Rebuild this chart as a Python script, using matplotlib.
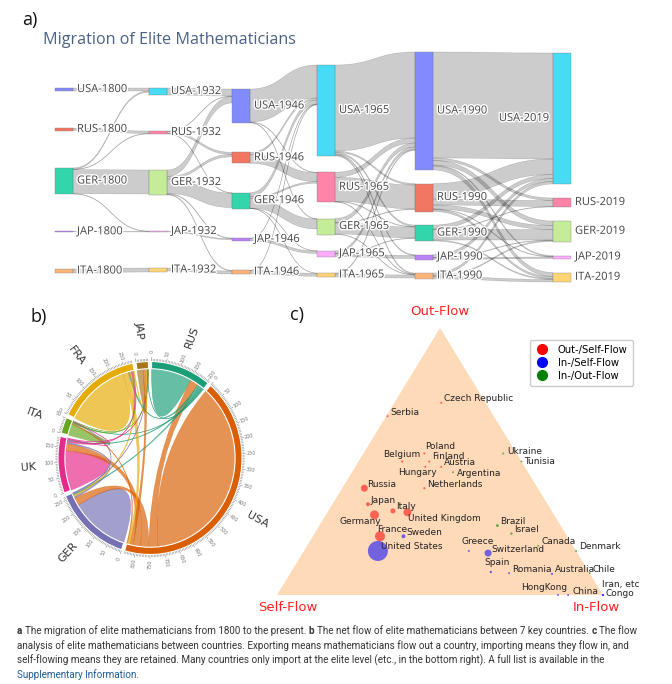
import numpy as np
import matplotlib.pyplot as plt
from matplotlib.path import Path
from matplotlib.patches import PathPatch, Rectangle, Polygon, Wedge
from matplotlib.collections import LineCollection
from matplotlib.lines import Line2D
import matplotlib.patheffects as pe

# ---------------- data: panel a (Sankey) ----------------
sk_countries = ["USA", "RUS", "GER", "JAP", "ITA"]
sk_years = [1800, 1932, 1946, 1965, 1990, 2019]

flows_1800_1932 = [("USA", "USA", 12), ("RUS", "RUS", 10), ("GER", "GER", 96),
                   ("GER", "USA", 5), ("GER", "JAP", 2), ("GER", "RUS", 2),
                   ("JAP", "JAP", 2), ("ITA", "ITA", 16)]
flows_1932_1946 = [("USA", "USA", 28), ("RUS", "RUS", 8), ("RUS", "USA", 2),
                   ("RUS", "GER", 2), ("GER", "GER", 58), ("GER", "USA", 26),
                   ("GER", "RUS", 10), ("GER", "ITA", 3), ("GER", "JAP", 3),
                   ("JAP", "JAP", 4), ("ITA", "ITA", 12)]
flows_1946_1965 = [("USA", "USA", 132), ("USA", "RUS", 2), ("USA", "GER", 2),
                   ("RUS", "RUS", 36), ("RUS", "USA", 8), ("GER", "GER", 40),
                   ("GER", "USA", 16), ("GER", "RUS", 6), ("GER", "JAP", 1),
                   ("GER", "ITA", 1), ("JAP", "JAP", 10), ("JAP", "USA", 2),
                   ("ITA", "ITA", 12), ("ITA", "USA", 2)]
flows_1965_1990 = [("USA", "USA", 344), ("USA", "RUS", 6), ("USA", "GER", 6),
                   ("USA", "JAP", 4), ("USA", "ITA", 4), ("RUS", "RUS", 96),
                   ("RUS", "USA", 20), ("RUS", "GER", 2), ("RUS", "ITA", 2),
                   ("GER", "GER", 44), ("GER", "USA", 16), ("GER", "RUS", 2),
                   ("GER", "ITA", 2), ("JAP", "JAP", 12), ("JAP", "USA", 10),
                   ("JAP", "GER", 2), ("ITA", "ITA", 12), ("ITA", "USA", 4)]
flows_1990_2019 = [("USA", "USA", 424), ("USA", "RUS", 10), ("USA", "GER", 18),
                   ("USA", "JAP", 4), ("USA", "ITA", 16), ("RUS", "USA", 62),
                   ("RUS", "RUS", 24), ("RUS", "GER", 16), ("RUS", "ITA", 8),
                   ("RUS", "JAP", 2), ("GER", "GER", 42), ("GER", "USA", 16),
                   ("GER", "ITA", 4), ("GER", "RUS", 2), ("JAP", "JAP", 6),
                   ("JAP", "USA", 12), ("JAP", "GER", 2), ("ITA", "ITA", 10),
                   ("ITA", "USA", 10), ("ITA", "GER", 4)]
sk_flows = [flows_1800_1932, flows_1932_1946, flows_1946_1965,
            flows_1965_1990, flows_1990_2019]

# ---------------- data: panel b (chord) ----------------
ch_names = ["RUS", "USA", "GER", "UK", "ITA", "FRA", "JAP"]
ch_colors = ["#1b9e77", "#d95f02", "#7570b3", "#e7298a", "#66a61e", "#e6ab02", "#a6761d"]
ch_matrix = [
    [150, 30, 6, 5, 3, 8, 4],
    [34, 720, 30, 28, 4, 8, 12],
    [4, 28, 215, 6, 3, 5, 2],
    [4, 26, 5, 140, 3, 5, 2],
    [2, 3, 2, 2, 40, 3, 1],
    [6, 20, 6, 5, 3, 240, 3],
    [2, 10, 2, 2, 1, 3, 22],
]

# ---------------- data: panel c (ternary) ----------------
tn_names = ["Czech Republic", "Serbia", "Poland", "Belgium", "Finland", "Austria",
            "Hungary", "Argentina", "Ukraine", "Tunisia", "Russia", "Netherlands",
            "Japan", "Italy", "Germany", "United Kingdom", "France", "Sweden",
            "United States", "Brazil", "Israel", "Greece", "Switzerland", "Canada",
            "Denmark", "Spain", "Romania", "Australia", "Chile", "HongKong",
            "China", "Congo", "Iran, etc"]
tn_out = [0.72, 0.67, 0.53, 0.50, 0.50, 0.48, 0.48, 0.46, 0.53, 0.50, 0.40, 0.40,
          0.34, 0.315, 0.30, 0.31, 0.22, 0.22, 0.165, 0.26, 0.23, 0.165, 0.157, 0.184,
          0.165, 0.086, 0.082, 0.079, 0.082, 0.0, 0.0, 0.0, 0.0]
tn_in = [0.144, 0.004, 0.187, 0.134, 0.217, 0.264, 0.215, 0.31, 0.429, 0.50, 0.068, 0.252,
         0.109, 0.198, 0.149, 0.245, 0.206, 0.278, 0.227, 0.546, 0.604, 0.506, 0.569, 0.709,
         0.835, 0.613, 0.671, 0.804, 0.918, 0.862, 0.893, 1.0, 1.0]
tn_self = [round(1 - o - i, 3) for o, i in zip(tn_out, tn_in)]
tn_group = ["os", "os", "os", "os", "os", "os", "os", "io", "io", "io", "os", "os",
            "os", "os", "os", "os", "os", "is", "is", "io", "io", "is", "is", "io",
            "io", "is", "is", "is", "io", "is", "is", "is", "is"]
tn_count = [4, 4, 4, 5, 4, 4, 4, 4, 4, 4, 49, 5, 16, 25, 80, 64, 100, 16, 400,
            9, 6, 4, 49, 4, 4, 6, 4, 5, 4, 4, 4, 5, 5]

# ---------------- figure ----------------
W, H = 672, 684
fig = plt.figure(figsize=(W / 100, H / 100), dpi=100)
base = fig.add_axes([0, 0, 1, 1])
base.set_xlim(0, W)
base.set_ylim(H, 0)
base.axis("off")

PLOTLY = ["#636efa", "#EF553B", "#00cc96", "#ab63fa", "#FFA15A",
          "#19d3f3", "#FF6692", "#B6E880", "#FF97FF", "#FECB52"]

# ---- Sankey layout ----
col_left = [55, 149, 232, 317, 415, 553]
col_span = [(88, 273), (88, 272), (89, 274), (65, 277), (52, 279), (53, 282)]
node_w = 18
min_gap = 13.5

inflow = {(y, c): 0 for y in sk_years for c in sk_countries}
outflow = dict(inflow)
for ti, fl in enumerate(sk_flows):
    for s, t, v in fl:
        outflow[(sk_years[ti], s)] += v
        inflow[(sk_years[ti + 1], t)] += v
value = {n: max(inflow[n], outflow[n]) for n in inflow}
totals = [sum(value[(y, c)] for c in sk_countries) for y in sk_years]
nc = len(sk_countries)
scale = min((b - a - (nc - 1) * min_gap) / tot for (a, b), tot in zip(col_span, totals))

top = {}
for yi, y in enumerate(sk_years):
    a, b = col_span[yi]
    gap = (b - a - totals[yi] * scale) / (nc - 1)
    pos = a
    for c in sk_countries:
        top[(y, c)] = pos
        pos += value[(y, c)] * scale + gap

def center(n):
    return top[n] + value[n] * scale / 2

out_off = {n: top[n] for n in top}
in_off = {n: top[n] for n in top}
for ti, fl in enumerate(sk_flows):
    y0, y1 = sk_years[ti], sk_years[ti + 1]
    links = [((y0, s), (y1, t), v) for s, t, v in fl]
    src_pos, dst_pos = {}, {}
    for link in sorted(links, key=lambda l: center(l[1])):
        s = link[0]
        src_pos[id(link)] = out_off[s]
        out_off[s] += link[2] * scale
    for link in sorted(links, key=lambda l: center(l[0])):
        t = link[1]
        dst_pos[id(link)] = in_off[t]
        in_off[t] += link[2] * scale
    x0 = col_left[ti] + node_w
    x1 = col_left[ti + 1]
    xm = (x0 + x1) / 2
    for link in links:
        h = link[2] * scale
        ys0 = src_pos[id(link)]
        yt0 = dst_pos[id(link)]
        verts = [(x0, ys0), (xm, ys0), (xm, yt0), (x1, yt0), (x1, yt0 + h),
                 (xm, yt0 + h), (xm, ys0 + h), (x0, ys0 + h), (x0, ys0)]
        codes = [Path.MOVETO, Path.CURVE4, Path.CURVE4, Path.CURVE4, Path.LINETO,
                 Path.CURVE4, Path.CURVE4, Path.CURVE4, Path.CLOSEPOLY]
        base.add_patch(PathPatch(Path(verts, codes), facecolor=(0, 0, 0, 0.2),
                                 edgecolor=(0, 0, 0, 0.22), lw=0.35, zorder=2))

for yi, y in enumerate(sk_years):
    for ci, c in enumerate(sk_countries):
        n = (y, c)
        h = max(value[n] * scale, 1.0)
        color = PLOTLY[(yi * nc + ci) % len(PLOTLY)]
        base.add_patch(Rectangle((col_left[yi], top[n]), node_w, h, facecolor=color,
                                 alpha=0.8, edgecolor="#777", lw=0.3, zorder=3))
        last_big = yi == len(sk_years) - 1 and ci == 0
        tx = col_left[yi] - 4 if last_big else col_left[yi] + node_w + 4
        base.text(tx, top[n] + h / 2, f"{c}-{y}", ha="right" if last_big else "left",
                  va="center", fontsize=8, family="Open Sans", color="#444", zorder=4,
                  path_effects=[pe.withStroke(linewidth=2, foreground="white")])

base.text(22, 20, "a)", fontsize=13, va="center", ha="left", family="Open Sans", color="#111")
base.text(43, 40, "Migration of Elite Mathematicians", fontsize=11.6, va="center",
          ha="left", family="Open Sans", color="#4a6286")
base.text(31, 317, "b)", fontsize=13, va="center", ha="left", family="Open Sans", color="#111")
base.text(290, 315, "c)", fontsize=13, va="center", ha="left", family="Open Sans", color="#111")

# ---- chord diagram ----
cx, cy, rx, ry = 150, 458, 92, 96.5
ext = 1.5
axb = fig.add_axes([(cx - ext * rx) / W, 1 - (cy + ext * ry) / H,
                    2 * ext * rx / W, 2 * ext * ry / H])
axb.set_xlim(-ext, ext)
axb.set_ylim(-ext, ext)
axb.axis("off")

M = np.array(ch_matrix, float)
n = len(ch_names)
pad = np.radians(2.0)
k = (2 * np.pi - n * pad) / M.sum()
sub = {}
groups = []
a = pad / 2
for i in range(n):
    a0 = a
    for j in np.argsort(-M[i], kind="stable"):
        sub[(i, j)] = (a, a + M[i, j] * k)
        a += M[i, j] * k
    groups.append((a0, a))
    a += pad

def P(ang, r):
    return (r * np.sin(ang), r * np.cos(ang))

def arc_pts(a0, a1, r):
    m = max(2, int(np.degrees(abs(a1 - a0)) * 2) + 2)
    return [P(t, r) for t in np.linspace(a0, a1, m)]

def radial_rot(ang):
    deg = np.degrees(ang) % 360
    rot = 90 - deg
    if 180 < deg < 360:
        rot += 180
    return rot

r_in, r_out = 0.925, 1.0
for i in range(n):
    for j in range(i, n):
        if M[i, j] == 0 and M[j, i] == 0:
            continue
        s0, s1 = sub[(i, j)]
        t0, t1 = sub[(j, i)]
        arc1 = arc_pts(s0, s1, r_in)
        verts = list(arc1)
        codes = [Path.MOVETO] + [Path.LINETO] * (len(arc1) - 1)
        if i != j:
            arc2 = arc_pts(t0, t1, r_in)
            verts += [(0, 0), arc2[0]] + arc2[1:]
            codes += [Path.CURVE3, Path.CURVE3] + [Path.LINETO] * (len(arc2) - 1)
        verts += [(0, 0), arc1[0], arc1[0]]
        codes += [Path.CURVE3, Path.CURVE3, Path.CLOSEPOLY]
        col = ch_colors[i] if M[i, j] >= M[j, i] else ch_colors[j]
        z = 2 if i == j else 3
        axb.add_patch(PathPatch(Path(verts, codes), facecolor=col, alpha=0.67,
                                edgecolor=col, lw=0.3, zorder=z))

ticks = []
for i, (a0, a1) in enumerate(groups):
    axb.add_patch(Wedge((0, 0), r_out, 90 - np.degrees(a1), 90 - np.degrees(a0),
                        width=r_out - r_in, facecolor=ch_colors[i],
                        edgecolor="white", lw=0.8, zorder=4))
    total = M[i].sum()
    for v in np.arange(0, total, 5):
        ang = a0 + v * k
        L = 1.045 if v % 50 == 0 else 1.028
        ticks.append([P(ang, 1.005), P(ang, L)])
        if v % 50 == 0:
            x, y = P(ang, 1.1)
            axb.text(x, y, f"{int(v)}", fontsize=3.5, color="#777", ha="center",
                     va="center", rotation=radial_rot(ang), rotation_mode="anchor")
    mid = (a0 + a1) / 2
    x, y = P(mid, 1.33)
    axb.text(x, y, ch_names[i], fontsize=8, color="#333", ha="center", va="center",
             rotation=radial_rot(mid), rotation_mode="anchor")
axb.add_collection(LineCollection(ticks, colors="#888", linewidths=0.4, zorder=4))

# ---- ternary plot ----
axc = fig.add_axes([277 / W, 1 - 595 / H, 326 / W, 267 / H])
axc.set_xlim(0, 1)
axc.set_ylim(0, 1)
axc.axis("off")
axc.add_patch(Polygon([(0, 0), (1, 0), (0.5, 1)], closed=True, facecolor="peachpuff",
                      edgecolor="none", zorder=1))
grp_color = {"os": "red", "is": "blue", "io": "green"}
tx_pos = [i_ + 0.5 * o_ for o_, i_ in zip(tn_out, tn_in)]
ty_pos = list(tn_out)
axc.scatter(tx_pos, ty_pos, s=[0.52 * c for c in tn_count],
            c=[grp_color[g] for g in tn_group], alpha=0.55, linewidths=0,
            zorder=3, clip_on=False)

label_off = {"Belgium": (0, 7, "center"), "Hungary": (-8, -6, "center"),
             "Germany": (-14, -7, "center"), "United Kingdom": (1, -6, "left"),
             "France": (-3, 7, "left"), "Greece": (-7, 9, "left"),
             "Spain": (-6, 10, "left"), "HongKong": (9, 8, "right"),
             "Poland": (1, 7, "left"), "Finland": (3, 5, "left"),
             "Argentina": (4, -1, "left"), "Ukraine": (4, 2, "left"),
             "Tunisia": (3, 0, "left"), "Congo": (3, 1, "left"),
             "China": (4, 3, "left"), "Iran, etc": (-1, 11, "left")}
for name, x, y in zip(tn_names, tx_pos, ty_pos):
    dx, dy, ha = label_off.get(name, (3, 4, "left"))
    axc.annotate(name, (x, y), xytext=(dx, dy), textcoords="offset pixels",
                 fontsize=6.5, color="#222", ha=ha, va="center", zorder=4,
                 annotation_clip=False)

axc.text(0.5, 1.06, "Out-Flow", transform=axc.transAxes, color="#f22", fontsize=9.5,
         ha="center", va="center")
axc.text(0.034, -0.048, "Self-Flow", transform=axc.transAxes, color="#f22",
         fontsize=9.5, ha="center", va="center")
axc.text(0.98, -0.048, "In-Flow", transform=axc.transAxes, color="#f22",
         fontsize=9.5, ha="center", va="center")

handles = [Line2D([], [], marker="o", ls="none", color=c, markersize=7)
           for c in ["red", "blue", "green"]]
axc.legend(handles, ["Out-/Self-Flow", "In-/Self-Flow", "In-/Out-Flow"],
           loc="upper left", bbox_to_anchor=(525 / W, 1 - 335 / H),
           bbox_transform=fig.transFigure, fontsize=7.2, frameon=True,
           handletextpad=1.0, borderpad=0.5, labelspacing=0.3, handlelength=1.3,
           edgecolor="#ccc", fancybox=True, framealpha=1)

# ---- caption ----
cap_lines = [
    [("a", True, "#333"), ("The migration of elite mathematicians from 1800 to the present.", False, "#333"),
     ("b", True, "#333"), ("The net flow of elite mathematicians between 7 key countries.", False, "#333"),
     ("c", True, "#333"), ("The flow", False, "#333")],
    [("analysis of elite mathematicians between countries. Exporting means mathematicians "
      "flow out a country, importing means they flow in, and", False, "#333")],
    [("self-flowing means they are retained. Many countries only import at the elite level "
      "(etc., in the bottom right). A full list is available in the", False, "#333")],
    [("Supplementary Information.", False, "#1f5c99")],
]
cap_y = [631, 645.5, 660, 674.5]
cap_fs = 7.15
renderer = fig.canvas.get_renderer()

def text_w(s, bold=False):
    t = fig.text(0, 0, s, fontsize=cap_fs, family="Roboto",
                 fontweight="bold" if bold else "normal")
    w = t.get_window_extent(renderer).width
    t.remove()
    return w

space_w = text_w("x x") - text_w("xx")
for parts, y in zip(cap_lines, cap_y):
    x = 17
    for txt, bold, col in parts:
        t = base.text(x, y, txt, fontsize=cap_fs, family="Roboto", color=col,
                      fontweight="bold" if bold else "normal", va="center", ha="left")
        x += t.get_window_extent(renderer).width + space_w

fig.savefig("out.png", dpi=100)
